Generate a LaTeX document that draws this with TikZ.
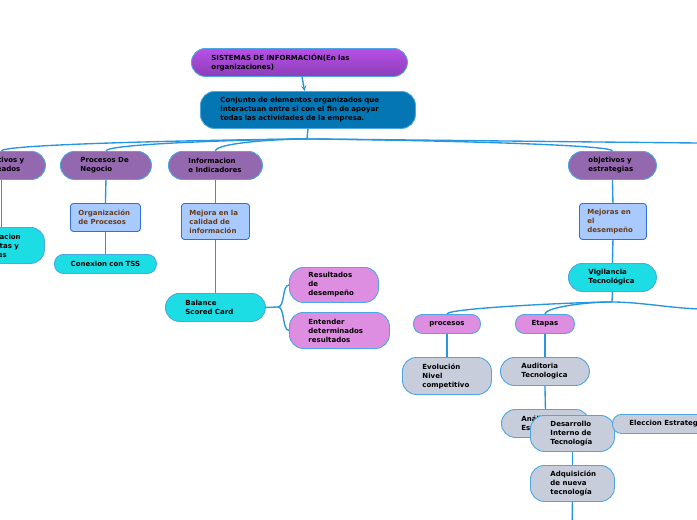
\documentclass[tikz,border=0pt]{standalone}
\usepackage{fontspec}
\setmainfont{DejaVu Sans}
\usetikzlibrary{positioning}

\definecolor{linea}{RGB}{38,150,222}
\definecolor{borde}{RGB}{78,166,226}
\definecolor{moradoA}{RGB}{184,80,232}
\definecolor{moradoB}{RGB}{140,62,184}
\definecolor{morado}{RGB}{148,104,174}
\definecolor{azul}{RGB}{4,118,180}
\definecolor{cian}{RGB}{28,220,228}
\definecolor{celeste}{RGB}{168,202,255}
\definecolor{bordeceleste}{RGB}{50,112,212}
\definecolor{rosa}{RGB}{221,142,224}
\definecolor{gris}{RGB}{200,205,220}
\definecolor{cafe}{RGB}{105,60,25}

\begin{document}
\begin{tikzpicture}[
        x=1pt, y=-1pt,
        caja/.style={draw=borde, line width=0.9pt, rounded corners=14pt,
            anchor=north west, align=left, inner xsep=20pt, inner ysep=2pt,
            font=\fontsize{7}{9}\selectfont\bfseries},
        titulo/.style={caja, top color=moradoA, bottom color=moradoB},
        tema/.style={caja, fill=morado},
        hoja/.style={caja, fill=cian},
        nota/.style={caja, fill=rosa},
        paso/.style={caja, fill=gris},
        corta/.style={rounded corners=9pt, align=center, inner xsep=4pt},
        cuadro/.style={caja, fill=celeste, draw=bordeceleste,
            rounded corners=3pt, inner xsep=8pt, text=cafe},
        rama/.style={draw=linea, line width=1.35pt},
        >=stealth
        ]
            \useasboundingbox (0,0) rectangle (697,520);
            \fill[white] (0,0) rectangle (697,520);
            \clip (0,0) rectangle (697,520);

            % raiz
            \node[titulo, text width=176pt, minimum height=28pt] (TITULO) at (191,48)
                {SISTEMAS DE INFORMACIÓN(En~las\\organizaciones)};
            \node[caja, fill=azul, text width=175pt, minimum height=37pt] (CONJ) at (200,91)
                {Conjunto de elementos organizados que\\interactuan entre si con el fin de apoyar\\todas las actividades de la empresa.};

            % primer nivel
            \node[tema, text width=48pt, minimum height=28pt] (DIREC) at (-43,151)
                {Directivos~y\\Empleados};
            \node[tema, text width=51pt, minimum height=28pt] (PROC) at (60,151)
                {Procesos~De\\Negocio};
            \node[tema, text width=54pt, minimum height=28pt] (INFO) at (168,151)
                {Informacion\\e~Indicadores};
            \node[tema, text width=48pt, minimum height=28pt] (OBJEST) at (568,151)
                {objetivos~y\\estrategias};

            % rama izquierda
            \node[hoja, text width=51pt, minimum height=36pt] (CONCRETA) at (-47,227)
                {Informacion\\concretas~y\\actuales};
            \node[cuadro, text width=54pt, minimum height=28pt] (ORG) at (70,203)
                {Organización\\de~Procesos};
            \node[hoja, corta, text width=94pt, minimum height=19pt] (TSS) at (54,254)
                {Conexion con TSS};
            \node[cuadro, text width=52pt, minimum height=36pt] (MEJORA) at (181,203)
                {Mejora~en~la\\calidad~de\\información};
            \node[hoja, text width=60pt, minimum height=28pt] (BSC) at (165,293)
                {Balance\\Scored~Card};
            \node[nota, inner xsep=19pt, text width=51pt, minimum height=35pt] (RESUL) at (289,267)
                {Resultados\\de\\desempeño};
            \node[nota, inner xsep=19pt, text width=62pt, minimum height=36pt] (ENTEN) at (289,312)
                {Entender\\determinados\\resultados};

            % rama derecha
            \node[cuadro, text width=51pt, minimum height=36pt] (MEJORAS) at (579,203)
                {Mejoras~en\\el\\desempeño};
            \node[hoja, text width=48pt, minimum height=28pt] (VIGIL) at (568,263)
                {Vigilancia\\Tecnológica};
            \node[nota, corta, text width=59pt, minimum height=19pt] (PROCS) at (413,314)
                {procesos};
            \node[nota, corta, text width=51pt, minimum height=19pt] (ETAPAS) at (515,314)
                {Etapas};
            \node[paso, text width=49pt, minimum height=37pt] (EVOL) at (402,357)
                {Evolución\\Nivel\\competitivo};
            \node[paso, inner xsep=21pt, text width=47pt, minimum height=28pt] (AUDIT) at (500,357)
                {Auditoria\\Tecnologica};
            \node[paso, text width=48pt, minimum height=28pt] (ANALISIS) at (501,409)
                {Análisis\\Estratégico};
            \node[paso, text width=44pt, minimum height=36pt] (DESARR) at (530,415)
                {Desarrollo\\Interno~de\\Tecnología};
            \node[paso, rounded corners=9pt, inner xsep=17pt, minimum height=19pt] (ELECC) at (612,414)
                {Eleccion Estrategica};
            \node[paso, text width=44pt, minimum height=36pt] (ADQ) at (530,465)
                {Adquisición\\de~nueva\\tecnología};

            % extremos fuera del cuadro
            \coordinate (HUBA) at (307,139);
            \coordinate (HUBB) at (612,302);
            \coordinate (HUBC) at (278,307);
            \coordinate (FUERAA) at (705,143);
            \coordinate (FUERAB) at (705,309);
            \coordinate (FUERAC) at (572,530);

            % conectores
            \draw[rama, ->] (TITULO) -- (CONJ);
            \draw[rama] (CONJ.south) -- (HUBA);
            \foreach \hijo in {DIREC, PROC, INFO}
                \draw[rama] (HUBA) .. controls +(-30,0) and +(0,-8) .. (\hijo.north);
            \draw[rama] (HUBA) .. controls +(30,0) and +(0,-8) .. (OBJEST.north);
            \draw[rama] (HUBA) .. controls +(30,0) and +(-30,0) .. (FUERAA);

            \draw[rama] (DIREC.south) -- (DIREC.south |- CONCRETA.north);
            \draw[rama] (PROC.south) -- (ORG.north);
            \draw[rama] (ORG.south) -- (TSS.north);
            \draw[rama] (INFO.south) -- (MEJORA.north);
            \draw[rama] (MEJORA.south) -- (BSC.north);
            \draw[rama] (BSC.east) -- (HUBC);
            \foreach \hijo in {RESUL, ENTEN}
                \draw[rama] (HUBC) .. controls +(7,0) and +(-7,0) .. (\hijo.west);

            \draw[rama] (OBJEST.south) -- (MEJORAS.north);
            \draw[rama] (MEJORAS.south) -- (VIGIL.north);
            \draw[rama] (VIGIL.south) -- (HUBB);
            \foreach \hijo in {PROCS, ETAPAS}
                \draw[rama] (HUBB) .. controls +(-30,0) and +(0,-6) .. (\hijo.north);
            \draw[rama] (HUBB) .. controls +(30,0) and +(-30,0) .. (FUERAB);

            \draw[rama] (PROCS.south) -- (EVOL.north);
            \draw[rama] (ETAPAS.south) -- (AUDIT.north);
            \draw[rama] (AUDIT.south) -- (ANALISIS.north);
            \draw[rama] (DESARR.south) -- (ADQ.north);
            \draw[rama] (ADQ.south) -- (FUERAC);
        \end{tikzpicture}
\end{document}
